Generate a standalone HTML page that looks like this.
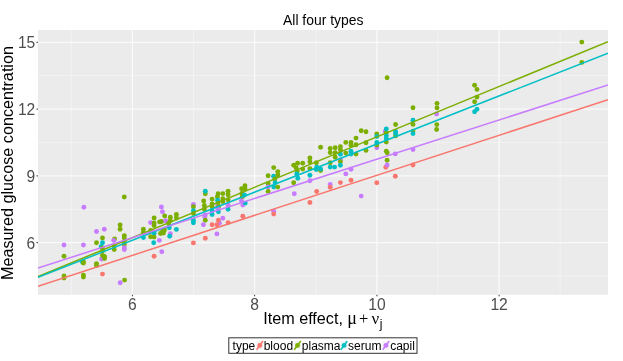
<!DOCTYPE html>
<html><head><meta charset="utf-8"><title>All four types</title>
<style>html,body{margin:0;padding:0;background:#fff}svg{display:block}text{font-family:"Liberation Sans",sans-serif}</style></head><body>
<svg width="623" height="361" viewBox="0 0 623 361">
<rect width="623" height="361" fill="#fff"/>
<rect x="38" y="30" width="570" height="264.8" fill="#EBEBEB"/>
<clipPath id="cp"><rect x="38" y="30" width="570" height="264.8"/></clipPath>
<g clip-path="url(#cp)">
<line x1="38" x2="608" y1="276.1" y2="276.1" stroke="#fff" stroke-width="1" stroke-opacity="0.38"/>
<line x1="38" x2="608" y1="209.3" y2="209.3" stroke="#fff" stroke-width="1" stroke-opacity="0.38"/>
<line x1="38" x2="608" y1="142.5" y2="142.5" stroke="#fff" stroke-width="1" stroke-opacity="0.38"/>
<line x1="38" x2="608" y1="75.7" y2="75.7" stroke="#fff" stroke-width="1" stroke-opacity="0.38"/>
<line y1="30" y2="294.8" x1="71.3" x2="71.3" stroke="#fff" stroke-width="1" stroke-opacity="0.38"/>
<line y1="30" y2="294.8" x1="193.5" x2="193.5" stroke="#fff" stroke-width="1" stroke-opacity="0.38"/>
<line y1="30" y2="294.8" x1="315.8" x2="315.8" stroke="#fff" stroke-width="1" stroke-opacity="0.38"/>
<line y1="30" y2="294.8" x1="438.0" x2="438.0" stroke="#fff" stroke-width="1" stroke-opacity="0.38"/>
<line y1="30" y2="294.8" x1="560.2" x2="560.2" stroke="#fff" stroke-width="1" stroke-opacity="0.38"/>
<line x1="38" x2="608" y1="242.7" y2="242.7" stroke="#fff" stroke-width="1.3" stroke-opacity="0.72"/>
<line x1="38" x2="608" y1="175.9" y2="175.9" stroke="#fff" stroke-width="1.3" stroke-opacity="0.72"/>
<line x1="38" x2="608" y1="109.1" y2="109.1" stroke="#fff" stroke-width="1.3" stroke-opacity="0.72"/>
<line x1="38" x2="608" y1="42.3" y2="42.3" stroke="#fff" stroke-width="1.3" stroke-opacity="0.72"/>
<line y1="30" y2="294.8" x1="132.4" x2="132.4" stroke="#fff" stroke-width="1.3" stroke-opacity="0.72"/>
<line y1="30" y2="294.8" x1="254.6" x2="254.6" stroke="#fff" stroke-width="1.3" stroke-opacity="0.72"/>
<line y1="30" y2="294.8" x1="376.9" x2="376.9" stroke="#fff" stroke-width="1.3" stroke-opacity="0.72"/>
<line y1="30" y2="294.8" x1="499.1" x2="499.1" stroke="#fff" stroke-width="1.3" stroke-opacity="0.72"/>
<circle cx="64.0" cy="245.0" r="2.45" fill="#C77CFF"/>
<circle cx="64.0" cy="256.3" r="2.45" fill="#7CAE00"/>
<circle cx="64.0" cy="276.0" r="2.45" fill="#7CAE00"/>
<circle cx="64.0" cy="278.0" r="2.45" fill="#7CAE00"/>
<circle cx="83.4" cy="245.0" r="2.45" fill="#C77CFF"/>
<circle cx="83.9" cy="207.2" r="2.45" fill="#C77CFF"/>
<circle cx="82.6" cy="262.2" r="2.45" fill="#00BFC4"/>
<circle cx="83.4" cy="261.7" r="2.45" fill="#7CAE00"/>
<circle cx="83.4" cy="263.1" r="2.45" fill="#7CAE00"/>
<circle cx="83.4" cy="275.1" r="2.45" fill="#7CAE00"/>
<circle cx="83.4" cy="277.0" r="2.45" fill="#7CAE00"/>
<circle cx="96.5" cy="231.5" r="2.45" fill="#C77CFF"/>
<circle cx="96.5" cy="242.8" r="2.45" fill="#7CAE00"/>
<circle cx="96.5" cy="263.6" r="2.45" fill="#7CAE00"/>
<circle cx="96.5" cy="265.6" r="2.45" fill="#7CAE00"/>
<circle cx="104.3" cy="229.3" r="2.45" fill="#C77CFF"/>
<circle cx="101.6" cy="259.0" r="2.45" fill="#C77CFF"/>
<circle cx="102.5" cy="238.0" r="2.45" fill="#7CAE00"/>
<circle cx="102.5" cy="242.8" r="2.45" fill="#00BFC4"/>
<circle cx="101.1" cy="246.7" r="2.45" fill="#00BFC4"/>
<circle cx="102.5" cy="248.0" r="2.45" fill="#7CAE00"/>
<circle cx="102.5" cy="251.0" r="2.45" fill="#7CAE00"/>
<circle cx="102.5" cy="255.4" r="2.45" fill="#7CAE00"/>
<circle cx="104.5" cy="256.4" r="2.45" fill="#7CAE00"/>
<circle cx="104.5" cy="258.6" r="2.45" fill="#7CAE00"/>
<circle cx="102.5" cy="274.1" r="2.45" fill="#F8766D"/>
<circle cx="114.6" cy="239.0" r="2.45" fill="#7CAE00"/>
<circle cx="113.7" cy="240.4" r="2.45" fill="#C77CFF"/>
<circle cx="114.2" cy="246.2" r="2.45" fill="#7CAE00"/>
<circle cx="114.2" cy="249.6" r="2.45" fill="#7CAE00"/>
<circle cx="120.1" cy="224.9" r="2.45" fill="#7CAE00"/>
<circle cx="120.1" cy="229.3" r="2.45" fill="#7CAE00"/>
<circle cx="120.2" cy="282.8" r="2.45" fill="#C77CFF"/>
<circle cx="124.3" cy="197.0" r="2.45" fill="#7CAE00"/>
<circle cx="124.3" cy="235.6" r="2.45" fill="#7CAE00"/>
<circle cx="124.3" cy="238.0" r="2.45" fill="#7CAE00"/>
<circle cx="124.3" cy="242.3" r="2.45" fill="#7CAE00"/>
<circle cx="124.3" cy="244.8" r="2.45" fill="#7CAE00"/>
<circle cx="124.3" cy="247.7" r="2.45" fill="#C77CFF"/>
<circle cx="124.3" cy="249.6" r="2.45" fill="#C77CFF"/>
<circle cx="124.6" cy="280.1" r="2.45" fill="#7CAE00"/>
<circle cx="143.4" cy="229.2" r="2.45" fill="#7CAE00"/>
<circle cx="143.4" cy="232.4" r="2.45" fill="#7CAE00"/>
<circle cx="143.4" cy="237.6" r="2.45" fill="#00BFC4"/>
<circle cx="150.6" cy="222.6" r="2.45" fill="#C77CFF"/>
<circle cx="150.6" cy="230.5" r="2.45" fill="#7CAE00"/>
<circle cx="150.6" cy="236.7" r="2.45" fill="#7CAE00"/>
<circle cx="154.1" cy="218.0" r="2.45" fill="#7CAE00"/>
<circle cx="154.1" cy="222.9" r="2.45" fill="#7CAE00"/>
<circle cx="154.1" cy="225.6" r="2.45" fill="#7CAE00"/>
<circle cx="154.1" cy="233.2" r="2.45" fill="#00BFC4"/>
<circle cx="154.1" cy="237.1" r="2.45" fill="#7CAE00"/>
<circle cx="153.7" cy="242.7" r="2.45" fill="#00BFC4"/>
<circle cx="161.4" cy="206.9" r="2.45" fill="#C77CFF"/>
<circle cx="162.4" cy="211.8" r="2.45" fill="#C77CFF"/>
<circle cx="164.7" cy="215.9" r="2.45" fill="#7CAE00"/>
<circle cx="159.6" cy="221.9" r="2.45" fill="#7CAE00"/>
<circle cx="161.7" cy="221.5" r="2.45" fill="#7CAE00"/>
<circle cx="165.6" cy="220.8" r="2.45" fill="#C77CFF"/>
<circle cx="159.3" cy="240.4" r="2.45" fill="#C77CFF"/>
<circle cx="160.5" cy="233.5" r="2.45" fill="#7CAE00"/>
<circle cx="162.5" cy="231.5" r="2.45" fill="#7CAE00"/>
<circle cx="164.5" cy="230.0" r="2.45" fill="#7CAE00"/>
<circle cx="163.5" cy="233.0" r="2.45" fill="#7CAE00"/>
<circle cx="161.8" cy="251.7" r="2.45" fill="#C77CFF"/>
<circle cx="154.1" cy="256.2" r="2.45" fill="#F8766D"/>
<circle cx="170.3" cy="217.3" r="2.45" fill="#7CAE00"/>
<circle cx="170.3" cy="220.8" r="2.45" fill="#7CAE00"/>
<circle cx="168.6" cy="223.5" r="2.45" fill="#7CAE00"/>
<circle cx="169.3" cy="227.7" r="2.45" fill="#00BFC4"/>
<circle cx="170.4" cy="233.7" r="2.45" fill="#C77CFF"/>
<circle cx="169.7" cy="236.3" r="2.45" fill="#00BFC4"/>
<circle cx="176.4" cy="214.5" r="2.45" fill="#7CAE00"/>
<circle cx="176.4" cy="218.0" r="2.45" fill="#7CAE00"/>
<circle cx="176.4" cy="229.4" r="2.45" fill="#00BFC4"/>
<circle cx="193.4" cy="204.4" r="2.45" fill="#C77CFF"/>
<circle cx="193.4" cy="206.8" r="2.45" fill="#7CAE00"/>
<circle cx="193.4" cy="210.7" r="2.45" fill="#00BFC4"/>
<circle cx="193.4" cy="213.6" r="2.45" fill="#7CAE00"/>
<circle cx="193.4" cy="220.3" r="2.45" fill="#00BFC4"/>
<circle cx="193.4" cy="222.8" r="2.45" fill="#00BFC4"/>
<circle cx="193.4" cy="242.9" r="2.45" fill="#F8766D"/>
<circle cx="205.3" cy="193.8" r="2.45" fill="#7CAE00"/>
<circle cx="205.3" cy="191.3" r="2.45" fill="#00BFC4"/>
<circle cx="203.7" cy="201.0" r="2.45" fill="#7CAE00"/>
<circle cx="204.3" cy="205.4" r="2.45" fill="#7CAE00"/>
<circle cx="204.3" cy="209.3" r="2.45" fill="#7CAE00"/>
<circle cx="205.3" cy="215.0" r="2.45" fill="#C77CFF"/>
<circle cx="204.8" cy="216.9" r="2.45" fill="#C77CFF"/>
<circle cx="205.3" cy="220.3" r="2.45" fill="#7CAE00"/>
<circle cx="203.4" cy="224.7" r="2.45" fill="#C77CFF"/>
<circle cx="205.3" cy="238.3" r="2.45" fill="#F8766D"/>
<circle cx="212.1" cy="199.1" r="2.45" fill="#7CAE00"/>
<circle cx="212.1" cy="203.9" r="2.45" fill="#7CAE00"/>
<circle cx="212.1" cy="206.8" r="2.45" fill="#7CAE00"/>
<circle cx="212.1" cy="210.7" r="2.45" fill="#00BFC4"/>
<circle cx="212.1" cy="214.5" r="2.45" fill="#00BFC4"/>
<circle cx="212.1" cy="224.7" r="2.45" fill="#F8766D"/>
<circle cx="218.1" cy="193.8" r="2.45" fill="#7CAE00"/>
<circle cx="217.4" cy="196.7" r="2.45" fill="#7CAE00"/>
<circle cx="217.6" cy="200.3" r="2.45" fill="#00BFC4"/>
<circle cx="217.9" cy="203.4" r="2.45" fill="#7CAE00"/>
<circle cx="217.4" cy="206.8" r="2.45" fill="#C77CFF"/>
<circle cx="218.6" cy="206.8" r="2.45" fill="#7CAE00"/>
<circle cx="217.9" cy="209.3" r="2.45" fill="#C77CFF"/>
<circle cx="218.4" cy="211.7" r="2.45" fill="#00BFC4"/>
<circle cx="219.4" cy="223.2" r="2.45" fill="#C77CFF"/>
<circle cx="218.4" cy="220.3" r="2.45" fill="#F8766D"/>
<circle cx="216.9" cy="224.7" r="2.45" fill="#F8766D"/>
<circle cx="216.9" cy="233.9" r="2.45" fill="#C77CFF"/>
<circle cx="222.8" cy="193.6" r="2.45" fill="#7CAE00"/>
<circle cx="222.8" cy="198.7" r="2.45" fill="#7CAE00"/>
<circle cx="222.8" cy="201.6" r="2.45" fill="#7CAE00"/>
<circle cx="222.8" cy="218.2" r="2.45" fill="#C77CFF"/>
<circle cx="228.1" cy="191.2" r="2.45" fill="#7CAE00"/>
<circle cx="228.1" cy="194.8" r="2.45" fill="#7CAE00"/>
<circle cx="228.1" cy="199.7" r="2.45" fill="#7CAE00"/>
<circle cx="228.1" cy="205.3" r="2.45" fill="#C77CFF"/>
<circle cx="228.1" cy="209.3" r="2.45" fill="#00BFC4"/>
<circle cx="228.1" cy="222.6" r="2.45" fill="#F8766D"/>
<circle cx="245.0" cy="185.7" r="2.45" fill="#7CAE00"/>
<circle cx="241.6" cy="188.7" r="2.45" fill="#7CAE00"/>
<circle cx="245.1" cy="189.1" r="2.45" fill="#7CAE00"/>
<circle cx="241.9" cy="193.4" r="2.45" fill="#7CAE00"/>
<circle cx="242.3" cy="196.8" r="2.45" fill="#7CAE00"/>
<circle cx="244.4" cy="195.0" r="2.45" fill="#00BFC4"/>
<circle cx="241.5" cy="200.8" r="2.45" fill="#C77CFF"/>
<circle cx="242.8" cy="205.1" r="2.45" fill="#C77CFF"/>
<circle cx="245.3" cy="203.1" r="2.45" fill="#00BFC4"/>
<circle cx="242.8" cy="216.3" r="2.45" fill="#F8766D"/>
<circle cx="268.1" cy="175.7" r="2.45" fill="#7CAE00"/>
<circle cx="268.1" cy="183.7" r="2.45" fill="#7CAE00"/>
<circle cx="268.1" cy="187.0" r="2.45" fill="#C77CFF"/>
<circle cx="268.1" cy="191.4" r="2.45" fill="#7CAE00"/>
<circle cx="273.7" cy="167.6" r="2.45" fill="#7CAE00"/>
<circle cx="273.6" cy="176.2" r="2.45" fill="#00BFC4"/>
<circle cx="274.9" cy="178.9" r="2.45" fill="#7CAE00"/>
<circle cx="275.1" cy="182.8" r="2.45" fill="#00BFC4"/>
<circle cx="273.8" cy="187.1" r="2.45" fill="#00BFC4"/>
<circle cx="273.7" cy="211.3" r="2.45" fill="#C77CFF"/>
<circle cx="273.7" cy="214.0" r="2.45" fill="#F8766D"/>
<circle cx="277.8" cy="171.6" r="2.45" fill="#7CAE00"/>
<circle cx="277.8" cy="175.0" r="2.45" fill="#7CAE00"/>
<circle cx="277.8" cy="187.1" r="2.45" fill="#7CAE00"/>
<circle cx="293.7" cy="165.3" r="2.45" fill="#7CAE00"/>
<circle cx="293.7" cy="182.7" r="2.45" fill="#7CAE00"/>
<circle cx="294.3" cy="193.7" r="2.45" fill="#C77CFF"/>
<circle cx="297.6" cy="163.3" r="2.45" fill="#7CAE00"/>
<circle cx="296.2" cy="168.0" r="2.45" fill="#7CAE00"/>
<circle cx="297.3" cy="171.0" r="2.45" fill="#7CAE00"/>
<circle cx="296.8" cy="173.9" r="2.45" fill="#00BFC4"/>
<circle cx="297.8" cy="178.2" r="2.45" fill="#00BFC4"/>
<circle cx="302.7" cy="163.3" r="2.45" fill="#7CAE00"/>
<circle cx="302.7" cy="169.1" r="2.45" fill="#7CAE00"/>
<circle cx="309.9" cy="157.9" r="2.45" fill="#7CAE00"/>
<circle cx="309.9" cy="161.8" r="2.45" fill="#7CAE00"/>
<circle cx="309.9" cy="168.6" r="2.45" fill="#7CAE00"/>
<circle cx="309.9" cy="175.2" r="2.45" fill="#00BFC4"/>
<circle cx="309.9" cy="180.7" r="2.45" fill="#C77CFF"/>
<circle cx="309.9" cy="202.5" r="2.45" fill="#F8766D"/>
<circle cx="316.4" cy="162.8" r="2.45" fill="#7CAE00"/>
<circle cx="316.7" cy="167.1" r="2.45" fill="#00BFC4"/>
<circle cx="316.2" cy="169.6" r="2.45" fill="#00BFC4"/>
<circle cx="316.7" cy="191.5" r="2.45" fill="#F8766D"/>
<circle cx="320.6" cy="147.2" r="2.45" fill="#7CAE00"/>
<circle cx="320.6" cy="170.5" r="2.45" fill="#7CAE00"/>
<circle cx="320.6" cy="169.1" r="2.45" fill="#00BFC4"/>
<circle cx="330.2" cy="148.5" r="2.45" fill="#7CAE00"/>
<circle cx="330.2" cy="152.6" r="2.45" fill="#7CAE00"/>
<circle cx="330.2" cy="162.8" r="2.45" fill="#7CAE00"/>
<circle cx="330.2" cy="167.1" r="2.45" fill="#00BFC4"/>
<circle cx="330.2" cy="184.5" r="2.45" fill="#C77CFF"/>
<circle cx="330.2" cy="187.2" r="2.45" fill="#F8766D"/>
<circle cx="335.2" cy="147.8" r="2.45" fill="#7CAE00"/>
<circle cx="335.2" cy="152.6" r="2.45" fill="#7CAE00"/>
<circle cx="335.2" cy="157.2" r="2.45" fill="#7CAE00"/>
<circle cx="334.6" cy="167.1" r="2.45" fill="#00BFC4"/>
<circle cx="340.4" cy="146.8" r="2.45" fill="#7CAE00"/>
<circle cx="340.4" cy="149.7" r="2.45" fill="#7CAE00"/>
<circle cx="340.4" cy="154.3" r="2.45" fill="#00BFC4"/>
<circle cx="340.4" cy="159.9" r="2.45" fill="#C77CFF"/>
<circle cx="340.4" cy="161.8" r="2.45" fill="#7CAE00"/>
<circle cx="340.4" cy="165.2" r="2.45" fill="#00BFC4"/>
<circle cx="340.4" cy="182.6" r="2.45" fill="#F8766D"/>
<circle cx="345.8" cy="142.4" r="2.45" fill="#7CAE00"/>
<circle cx="345.8" cy="153.1" r="2.45" fill="#7CAE00"/>
<circle cx="345.8" cy="173.9" r="2.45" fill="#C77CFF"/>
<circle cx="351.0" cy="142.4" r="2.45" fill="#7CAE00"/>
<circle cx="351.0" cy="145.3" r="2.45" fill="#7CAE00"/>
<circle cx="351.0" cy="151.2" r="2.45" fill="#00BFC4"/>
<circle cx="351.0" cy="154.1" r="2.45" fill="#00BFC4"/>
<circle cx="351.0" cy="169.2" r="2.45" fill="#C77CFF"/>
<circle cx="351.0" cy="180.3" r="2.45" fill="#F8766D"/>
<circle cx="356.0" cy="138.1" r="2.45" fill="#7CAE00"/>
<circle cx="356.0" cy="144.7" r="2.45" fill="#7CAE00"/>
<circle cx="356.0" cy="154.1" r="2.45" fill="#7CAE00"/>
<circle cx="361.2" cy="130.8" r="2.45" fill="#7CAE00"/>
<circle cx="361.2" cy="196.1" r="2.45" fill="#C77CFF"/>
<circle cx="366.0" cy="131.7" r="2.45" fill="#7CAE00"/>
<circle cx="366.0" cy="142.7" r="2.45" fill="#7CAE00"/>
<circle cx="366.0" cy="150.4" r="2.45" fill="#7CAE00"/>
<circle cx="376.8" cy="147.7" r="2.45" fill="#C77CFF"/>
<circle cx="376.8" cy="134.0" r="2.45" fill="#7CAE00"/>
<circle cx="376.8" cy="145.0" r="2.45" fill="#7CAE00"/>
<circle cx="376.8" cy="136.5" r="2.45" fill="#00BFC4"/>
<circle cx="376.8" cy="142.5" r="2.45" fill="#00BFC4"/>
<circle cx="376.8" cy="182.8" r="2.45" fill="#F8766D"/>
<circle cx="385.2" cy="131.5" r="2.45" fill="#C77CFF"/>
<circle cx="386.3" cy="132.9" r="2.45" fill="#7CAE00"/>
<circle cx="386.3" cy="129.0" r="2.45" fill="#00BFC4"/>
<circle cx="386.3" cy="135.8" r="2.45" fill="#00BFC4"/>
<circle cx="386.3" cy="138.7" r="2.45" fill="#00BFC4"/>
<circle cx="386.3" cy="142.1" r="2.45" fill="#7CAE00"/>
<circle cx="386.3" cy="151.3" r="2.45" fill="#7CAE00"/>
<circle cx="387.2" cy="152.8" r="2.45" fill="#7CAE00"/>
<circle cx="387.1" cy="160.3" r="2.45" fill="#7CAE00"/>
<circle cx="385.8" cy="167.3" r="2.45" fill="#F8766D"/>
<circle cx="387.1" cy="164.9" r="2.45" fill="#C77CFF"/>
<circle cx="387.1" cy="77.7" r="2.45" fill="#7CAE00"/>
<circle cx="395.6" cy="124.5" r="2.45" fill="#7CAE00"/>
<circle cx="395.6" cy="135.9" r="2.45" fill="#7CAE00"/>
<circle cx="395.6" cy="131.5" r="2.45" fill="#00BFC4"/>
<circle cx="395.6" cy="133.4" r="2.45" fill="#00BFC4"/>
<circle cx="395.3" cy="153.9" r="2.45" fill="#C77CFF"/>
<circle cx="395.3" cy="176.2" r="2.45" fill="#F8766D"/>
<circle cx="413.0" cy="107.7" r="2.45" fill="#7CAE00"/>
<circle cx="413.0" cy="124.4" r="2.45" fill="#7CAE00"/>
<circle cx="413.0" cy="120.2" r="2.45" fill="#00BFC4"/>
<circle cx="413.0" cy="131.1" r="2.45" fill="#7CAE00"/>
<circle cx="413.0" cy="133.6" r="2.45" fill="#00BFC4"/>
<circle cx="413.0" cy="149.6" r="2.45" fill="#C77CFF"/>
<circle cx="413.0" cy="165.0" r="2.45" fill="#F8766D"/>
<circle cx="437.0" cy="103.4" r="2.45" fill="#7CAE00"/>
<circle cx="437.0" cy="107.9" r="2.45" fill="#7CAE00"/>
<circle cx="436.6" cy="114.0" r="2.45" fill="#C77CFF"/>
<circle cx="436.8" cy="124.6" r="2.45" fill="#7CAE00"/>
<circle cx="436.6" cy="129.5" r="2.45" fill="#7CAE00"/>
<circle cx="474.6" cy="85.2" r="2.45" fill="#7CAE00"/>
<circle cx="477.0" cy="89.4" r="2.45" fill="#7CAE00"/>
<circle cx="477.0" cy="97.1" r="2.45" fill="#7CAE00"/>
<circle cx="474.6" cy="101.8" r="2.45" fill="#7CAE00"/>
<circle cx="477.0" cy="109.3" r="2.45" fill="#00BFC4"/>
<circle cx="474.6" cy="111.7" r="2.45" fill="#00BFC4"/>
<circle cx="581.8" cy="42.1" r="2.45" fill="#7CAE00"/>
<circle cx="581.8" cy="62.4" r="2.45" fill="#7CAE00"/>
<line x1="38" y1="286.3" x2="608" y2="99.6" stroke="#F8766D" stroke-width="1.5"/>
<line x1="38" y1="276.6" x2="608" y2="41.6" stroke="#7CAE00" stroke-width="1.5"/>
<line x1="38" y1="277.4" x2="608" y2="53.1" stroke="#00BFC4" stroke-width="1.5"/>
<line x1="38" y1="268" x2="608" y2="85" stroke="#C77CFF" stroke-width="1.5"/>
</g>
<line x1="36.5" x2="38" y1="242.7" y2="242.7" stroke="#333" stroke-width="1"/>
<text x="35.3" y="248.7" font-size="15.6" fill="#4D4D4D" text-anchor="end">6</text>
<line x1="36.5" x2="38" y1="175.9" y2="175.9" stroke="#333" stroke-width="1"/>
<text x="35.3" y="181.9" font-size="15.6" fill="#4D4D4D" text-anchor="end">9</text>
<line x1="36.5" x2="38" y1="109.1" y2="109.1" stroke="#333" stroke-width="1"/>
<text x="35.3" y="115.1" font-size="15.6" fill="#4D4D4D" text-anchor="end">12</text>
<line x1="36.5" x2="38" y1="42.3" y2="42.3" stroke="#333" stroke-width="1"/>
<text x="35.3" y="48.3" font-size="15.6" fill="#4D4D4D" text-anchor="end">15</text>
<line y1="294.8" y2="296.3" x1="132.4" x2="132.4" stroke="#333" stroke-width="1"/>
<text x="132.4" y="309.8" font-size="15.6" fill="#4D4D4D" text-anchor="middle">6</text>
<line y1="294.8" y2="296.3" x1="254.6" x2="254.6" stroke="#333" stroke-width="1"/>
<text x="254.6" y="309.8" font-size="15.6" fill="#4D4D4D" text-anchor="middle">8</text>
<line y1="294.8" y2="296.3" x1="376.9" x2="376.9" stroke="#333" stroke-width="1"/>
<text x="376.9" y="309.8" font-size="15.6" fill="#4D4D4D" text-anchor="middle">10</text>
<line y1="294.8" y2="296.3" x1="499.1" x2="499.1" stroke="#333" stroke-width="1"/>
<text x="499.1" y="309.8" font-size="15.6" fill="#4D4D4D" text-anchor="middle">12</text>
<text x="323.2" y="24.8" font-size="13.9" fill="#000" text-anchor="middle">All four types</text>
<text transform="translate(13.3,163) rotate(-90)" font-size="16.2" fill="#000" text-anchor="middle">Measured glucose concentration</text>
<text x="263.2" y="324.1" font-size="16.2" fill="#000">Item effect, <tspan font-family="'Liberation Serif',serif" font-size="18" dx="-0.3">μ</tspan><tspan font-family="'Liberation Serif',serif" font-size="16.5" dx="2.2">+</tspan><tspan font-family="'Liberation Serif',serif" font-size="17" dx="3.2">ν</tspan><tspan font-size="12" dy="3.5" dx="0.6">j</tspan></text>
<rect x="228.8" y="337.8" width="188.2" height="15.5" fill="#fff" stroke="#333" stroke-width="1"/>
<text x="232.6" y="349.7" font-size="12" fill="#000">type</text>
<rect x="256.6" y="341.2" width="6.4" height="8.3" fill="#F2F2F2"/><line x1="256.6" y1="349.8" x2="263.0" y2="341" stroke="#F8766D" stroke-width="1.5"/><circle cx="259.80" cy="345.4" r="2.45" fill="#F8766D"/>
<text x="263.7" y="349.7" font-size="12" fill="#000">blood</text>
<rect x="294.2" y="341.2" width="6.6" height="8.3" fill="#F2F2F2"/><line x1="294.2" y1="349.8" x2="300.8" y2="341" stroke="#7CAE00" stroke-width="1.5"/><circle cx="297.50" cy="345.4" r="2.45" fill="#7CAE00"/>
<text x="301.8" y="349.7" font-size="12" fill="#000">plasma</text>
<rect x="340.8" y="341.2" width="6.5" height="8.3" fill="#F2F2F2"/><line x1="340.8" y1="349.8" x2="347.3" y2="341" stroke="#00BFC4" stroke-width="1.5"/><circle cx="344.05" cy="345.4" r="2.45" fill="#00BFC4"/>
<text x="348.1" y="349.7" font-size="12" fill="#000">serum</text>
<rect x="382.7" y="341.2" width="6.5" height="8.3" fill="#F2F2F2"/><line x1="382.7" y1="349.8" x2="389.2" y2="341" stroke="#C77CFF" stroke-width="1.5"/><circle cx="385.95" cy="345.4" r="2.45" fill="#C77CFF"/>
<text x="390.2" y="349.7" font-size="12" fill="#000">capil</text>
</svg></body></html>
